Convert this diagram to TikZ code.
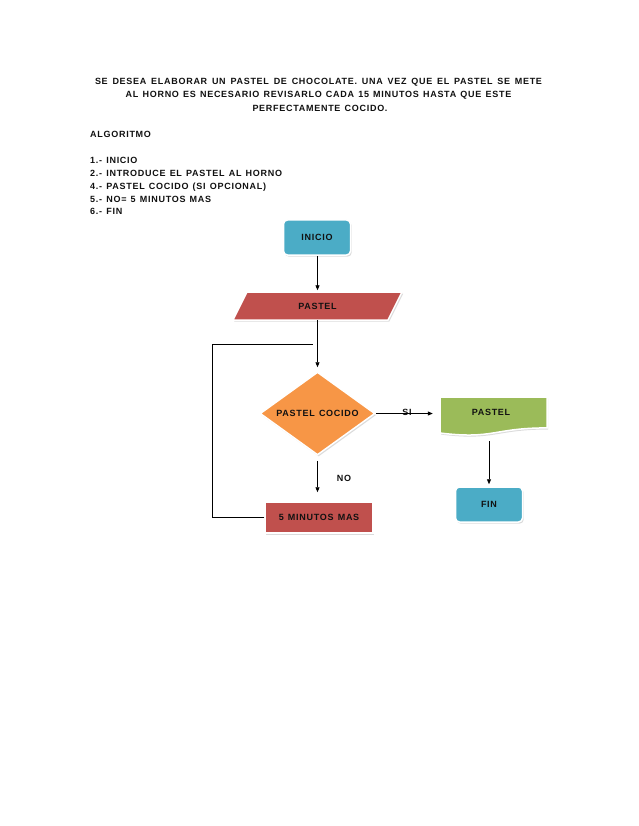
\documentclass[tikz,border=0pt]{standalone}
\usepackage{fontspec}
\setmainfont{Liberation Sans}[LetterSpace=8,WordSpace=1.3]
\usetikzlibrary{arrows.meta,shapes.geometric,shadows}
\definecolor{cblue}{HTML}{4BACC6}
\definecolor{cred}{HTML}{C0504D}
\definecolor{corange}{HTML}{F79646}
\definecolor{cgreen}{HTML}{9BBB59}
\definecolor{ctext}{HTML}{111111}
\tikzset{
  txt/.style={inner sep=0pt, text=ctext, font=\fontsize{9}{11}\selectfont\bfseries},
  titletxt/.style={txt, anchor=base},
  listtxt/.style={txt, anchor=base west},
  shp/.style={draw=white, line width=1.5pt,
    drop shadow={opacity=0.28, shadow xshift=1.2pt, shadow yshift=-1.6pt}},
  ntxt/.style={text=ctext, font=\fontsize{9}{11}\selectfont\bfseries},
  term/.style={shp, ntxt, rectangle, rounded corners=4pt, fill=cblue,
    minimum width=67, minimum height=35},
  procbox/.style={shp, ntxt, rectangle, fill=cred, minimum width=108, minimum height=31},
  decis/.style={shp, ntxt, diamond, fill=corange, aspect=1.386, inner sep=0pt,
    minimum width=115, minimum height=83},
  inv/.style={ntxt, inner sep=0pt},
  conn/.style={line width=0.85pt, draw=black},
  arr/.style={conn, -{Triangle[length=5pt,width=4pt]}},
}
\begin{document}
\begin{tikzpicture}[x=1pt,y=-1pt]
\useasboundingbox (0,0) rectangle (638,826);
\fill[white] (0,0) rectangle (638,826);

% title
\node[titletxt] (t1) at (318.5,84.2) {\makebox[447pt][s]{SE DESEA ELABORAR UN PASTEL DE CHOCOLATE. UNA VEZ QUE EL PASTEL SE METE}};
\node[titletxt] (t2) at (318.5,97.7) {AL HORNO ES NECESARIO REVISARLO CADA 15 MINUTOS HASTA QUE ESTE};
\node[titletxt] (t3) at (320,111.2) {PERFECTAMENTE COCIDO.};

% algorithm
\node[listtxt] (alg) at (90,137.2) {ALGORITMO};
\node[listtxt] (l1) at (90,163.7) {1.- INICIO};
\node[listtxt] (l2) at (90,176.5) {2.- INTRODUCE EL PASTEL AL HORNO};
\node[listtxt] (l3) at (90,189.3) {4.- PASTEL COCIDO (SI OPCIONAL)};
\node[listtxt] (l4) at (90,202.1) {5.- NO= 5 MINUTOS MAS};
\node[listtxt] (l5) at (90,214.9) {6.- FIN};

% shapes drawn directly
\path[shp, fill=cred] (247,292) -- (402,292) -- (388,320) -- (233,320) -- cycle;
\path[shp, fill=cgreen] (440,397) -- (547,397) -- (547,427.9)
  .. controls (493.5,427.9) and (493.5,439.6) .. (440,433) -- cycle;

% nodes
\node[term] (inicio) at (317,237.5) {INICIO};
\node[inv, minimum width=140, minimum height=28] (par) at (317.5,306) {PASTEL};
\node[decis] (dec) at (317.5,413.5) {PASTEL COCIDO};
\node[procbox] (mins) at (319,517.5) {5 MINUTOS MAS};
\node[inv, minimum width=107, minimum height=44] (doc) at (493.5,419) {};
\node[inv] (doctxt) at (491,412) {PASTEL};
\node[term] (fin) at (489,504.5) {FIN};
\node[inv, anchor=base] (si) at (407,415) {SI};
\node[inv] (no) at (344,478) {NO};
\coordinate (loopc) at (212,344);
\coordinate (loopend) at (313,344);

% connectors
\draw[arr, shorten >=1.5pt] (inicio.south -| par.north) -- (par.north);
\draw[arr, shorten >=4pt] (par.south -| dec.north) -- (dec.north);
\draw[arr, shorten <=5pt, shorten >=9pt] (dec.south) -- (dec.south |- mins.north);
\draw[arr, shorten >=7pt] (dec.east) -- (dec.east -| doc.west);
\draw[arr, shorten >=2pt] (doc.south -| fin) -- (fin.north);
\draw[conn] (mins.west) -- (mins.west -| loopc) -- (loopc) -- (loopend);
\end{tikzpicture}
\end{document}
